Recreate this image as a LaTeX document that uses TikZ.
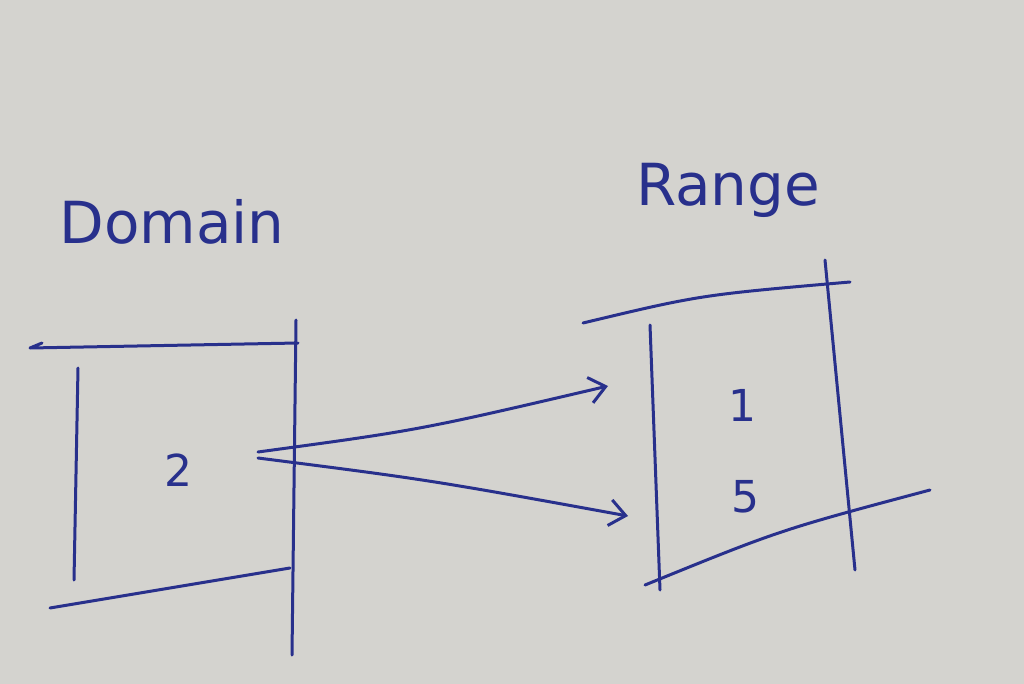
\documentclass[tikz,border=0pt]{standalone}
\usepackage{fontspec}
\setmainfont{DejaVu Sans}
\usetikzlibrary{arrows.meta}
\definecolor{paper}{HTML}{D4D3CF}
\definecolor{ink}{HTML}{28308C}
\begin{document}
\begin{tikzpicture}[x=1pt,y=-1pt,
  pen/.style={draw=ink,line width=3pt,line cap=round,line join=round},
  lbl/.style={text=ink,font=\fontsize{58}{62}\selectfont,inner sep=0pt},
  num/.style={text=ink,font=\fontsize{44}{48}\selectfont,inner sep=0pt},
  tip/.style={-{Straight Barb[length=16pt,width=26pt,line width=3pt]}}]
\fill[paper] (0,0) rectangle (1024,684);
\useasboundingbox (0,0) rectangle (1024,684);
% labels
\node[lbl] (dom) at (172,222) {Domain};
\node[lbl] (ran) at (728,190) {Range};
% domain box
\draw[pen] (42,343) -- (30,348) -- (298,343);
\draw[pen] (296,320) -- (292,655);
\draw[pen] (78,368) -- (74,580);
\draw[pen] (50,608) -- (290,568);
\node[num] (two) at (178,470) {2};
% range box
\draw[pen] (583,323) .. controls (700,295) .. (850,282);
\draw[pen] (825,260) -- (855,570);
\draw[pen] (650,325) -- (660,590);
\draw[pen] (645,585) .. controls (780,530) .. (930,490);
\node[num] (one) at (742,405) {1};
\node[num] (five) at (745,497) {5};
% arrows
\coordinate (s1) at (258,452);
\coordinate (s2) at (258,458);
\coordinate (e1) at (608,386);
\coordinate (e2) at (628,516);
\draw[pen,tip] (s1) .. controls (420,430) .. (e1);
\draw[pen,tip] (s2) .. controls (430,480) .. (e2);
\end{tikzpicture}
\end{document}
